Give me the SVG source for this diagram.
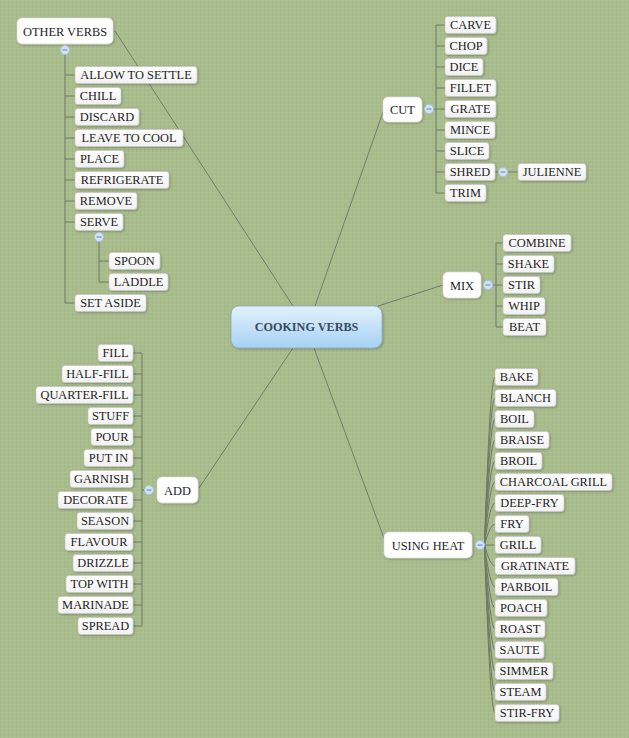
<svg xmlns="http://www.w3.org/2000/svg" width="629" height="738" viewBox="0 0 629 738">
<defs>
<pattern id="tex" width="4" height="4" patternUnits="userSpaceOnUse">
<rect width="4" height="4" fill="#a9bc8c"/>
<rect width="4" height="1" fill="#b4c59a" opacity="0.5"/>
<rect width="1" height="4" fill="#9eb284" opacity="0.4"/>
</pattern>
<linearGradient id="centerGrad" x1="0" y1="0" x2="0" y2="1">
<stop offset="0" stop-color="#e2f1fc"/>
<stop offset="1" stop-color="#a6d2f4"/>
</linearGradient>
<linearGradient id="leafGrad" x1="0" y1="0" x2="0" y2="1">
<stop offset="0" stop-color="#ffffff"/>
<stop offset="1" stop-color="#f1f1f1"/>
</linearGradient>
<filter id="sh" x="-10%" y="-20%" width="125%" height="150%">
<feDropShadow dx="1" dy="1" stdDeviation="0.8" flood-color="#000" flood-opacity="0.25"/>
</filter>
</defs>
<style>
.leaf{fill:url(#leafGrad);stroke:#c4c4c4;stroke-width:0.7;filter:url(#sh)}
.main{fill:#ffffff;stroke:#d8d8d8;stroke-width:0.7;filter:url(#sh)}
.center{fill:url(#centerGrad);stroke:#8aa6bd;stroke-width:0.8;filter:url(#sh)}
.t{font-family:"Liberation Serif","Times New Roman",serif;font-size:12.4px;fill:#1e1e1e;text-anchor:middle}
.ct{font-family:"Liberation Serif","Times New Roman",serif;font-size:12.2px;font-weight:bold;fill:#3a4b5e;text-anchor:middle}
.ln{stroke:#6f7a68;stroke-width:1;fill:none}
.mln{stroke:#737c6c;stroke-width:1;fill:none}
.btn{fill:#d3e3f6;stroke:#a7c1e2;stroke-width:0.8}
.minus{stroke:#5f86b8;stroke-width:1}
</style>
<rect id="background" width="629" height="738" fill="url(#tex)"/>

<g id="connectors">
<line class="mln" x1="115" y1="31" x2="293" y2="306"/>
<line class="mln" x1="383" y1="112" x2="315" y2="306"/>
<line class="mln" x1="378" y1="306" x2="443" y2="285"/>
<line class="mln" x1="199" y1="488" x2="293" y2="348"/>
<line class="mln" x1="314" y1="348" x2="385" y2="541"/>
<path class="ln" d="M65,54.5 V303 M65,75 H75 M65,96 H75 M65,117 H75 M65,138 H75 M65,159 H75 M65,180 H75 M65,201 H75 M65,222 H75 M65,303 H75"/>
<path class="ln" d="M99,241.5 V282 M99,261 H109 M99,282 H109"/>
<path class="ln" d="M433.5,109 H436 M436,25 V193 M436,25 H445 M436,46 H445 M436,67 H445 M436,88 H445 M436,109 H445 M436,130 H445 M436,151 H445 M436,172 H445 M436,193 H445"/>
<path class="ln" d="M495,172 H498.5 M507.5,172 H518"/>
<path class="ln" d="M492.5,285 H496 M496,243 V327 M496,243 H503 M496,264 H503 M496,285 H503 M496,306 H503 M496,327 H503"/>
<path class="ln" d="M144.5,490 H142 M142,353 V626 M133,353 H142 M133,374 H142 M133,395 H142 M133,416 H142 M133,437 H142 M133,458 H142 M133,479 H142 M133,500 H142 M133,521 H142 M133,542 H142 M133,563 H142 M133,584 H142 M133,605 H142 M133,626 H142"/>
<path class="ln" d="M484.5,545 Q490,377 495,377 M484.5,545 Q490,398 495,398 M484.5,545 Q490,419 495,419 M484.5,545 Q490,440 495,440 M484.5,545 Q490,461 495,461 M484.5,545 Q490,482 495,482 M484.5,545 Q490,503 495,503 M484.5,545 Q490,524 495,524 M484.5,545 H495 M484.5,545 Q490,566 495,566 M484.5,545 Q490,587 495,587 M484.5,545 Q490,608 495,608 M484.5,545 Q490,629 495,629 M484.5,545 Q490,650 495,650 M484.5,545 Q490,671 495,671 M484.5,545 Q490,692 495,692 M484.5,545 Q490,713 495,713"/>
</g>

<g id="cooking-verbs"><rect class="center" x="231" y="306" width="151" height="42" rx="8"/><text class="ct" x="306.5" y="331">COOKING VERBS</text></g>

<g id="other-verbs"><rect class="main" x="17" y="18" width="96" height="26" rx="5"/><text class="t" x="65" y="35.5">OTHER VERBS</text>
<circle class="btn" cx="65" cy="50" r="4.5"/><line class="minus" x1="62.5" y1="50" x2="67.5" y2="50"/></g>
<g id="allow-to-settle"><rect class="leaf" x="75" y="66.5" width="122" height="17" rx="3"/><text class="t" x="136" y="79.4">ALLOW TO SETTLE</text></g>
<g id="chill"><rect class="leaf" x="75" y="87.5" width="46" height="17" rx="3"/><text class="t" x="98" y="100.4">CHILL</text></g>
<g id="discard"><rect class="leaf" x="75" y="108.5" width="64" height="17" rx="3"/><text class="t" x="107" y="121.4">DISCARD</text></g>
<g id="leave-to-cool"><rect class="leaf" x="75" y="129.5" width="108" height="17" rx="3"/><text class="t" x="129" y="142.4">LEAVE TO COOL</text></g>
<g id="place"><rect class="leaf" x="75" y="150.5" width="49" height="17" rx="3"/><text class="t" x="99.5" y="163.4">PLACE</text></g>
<g id="refrigerate"><rect class="leaf" x="75" y="171.5" width="94" height="17" rx="3"/><text class="t" x="122" y="184.4">REFRIGERATE</text></g>
<g id="remove"><rect class="leaf" x="75" y="192.5" width="62" height="17" rx="3"/><text class="t" x="106" y="205.4">REMOVE</text></g>
<g id="serve"><rect class="leaf" x="75" y="213.5" width="48" height="17" rx="3"/><text class="t" x="99" y="226.4">SERVE</text>
<circle class="btn" cx="99" cy="237" r="4.5"/><line class="minus" x1="96.5" y1="237" x2="101.5" y2="237"/></g>
<g id="spoon"><rect class="leaf" x="109" y="252.5" width="51" height="17" rx="3"/><text class="t" x="134.5" y="265.4">SPOON</text></g>
<g id="laddle"><rect class="leaf" x="109" y="273.5" width="59" height="17" rx="3"/><text class="t" x="138.5" y="286.4">LADDLE</text></g>
<g id="set-aside"><rect class="leaf" x="75" y="294.5" width="71" height="17" rx="3"/><text class="t" x="110.5" y="307.4">SET ASIDE</text></g>

<g id="cut"><rect class="main" x="383" y="97" width="39" height="25" rx="5"/><text class="t" x="402.5" y="113.8">CUT</text>
<circle class="btn" cx="429" cy="109" r="4.5"/><line class="minus" x1="426.5" y1="109" x2="431.5" y2="109"/></g>
<g id="carve"><rect class="leaf" x="445" y="16.5" width="51" height="17" rx="3"/><text class="t" x="470.5" y="29.4">CARVE</text></g>
<g id="chop"><rect class="leaf" x="445" y="37.5" width="42" height="17" rx="3"/><text class="t" x="466" y="50.4">CHOP</text></g>
<g id="dice"><rect class="leaf" x="445" y="58.5" width="38" height="17" rx="3"/><text class="t" x="464" y="71.4">DICE</text></g>
<g id="fillet"><rect class="leaf" x="445" y="79.5" width="51" height="17" rx="3"/><text class="t" x="470.5" y="92.4">FILLET</text></g>
<g id="grate"><rect class="leaf" x="445" y="100.5" width="51" height="17" rx="3"/><text class="t" x="470.5" y="113.4">GRATE</text></g>
<g id="mince"><rect class="leaf" x="445" y="121.5" width="50" height="17" rx="3"/><text class="t" x="470" y="134.4">MINCE</text></g>
<g id="slice"><rect class="leaf" x="445" y="142.5" width="44" height="17" rx="3"/><text class="t" x="467" y="155.4">SLICE</text></g>
<g id="shred"><rect class="leaf" x="445" y="163.5" width="50" height="17" rx="3"/><text class="t" x="470" y="176.4">SHRED</text>
<circle class="btn" cx="503" cy="172" r="4.5"/><line class="minus" x1="500.5" y1="172" x2="505.5" y2="172"/></g>
<g id="julienne"><rect class="leaf" x="518" y="163.5" width="68" height="17" rx="3"/><text class="t" x="552" y="176.4">JULIENNE</text></g>
<g id="trim"><rect class="leaf" x="445" y="184.5" width="41" height="17" rx="3"/><text class="t" x="465.5" y="197.4">TRIM</text></g>

<g id="mix"><rect class="main" x="443" y="272" width="38" height="26" rx="5"/><text class="t" x="462" y="289.5">MIX</text>
<circle class="btn" cx="488" cy="285" r="4.5"/><line class="minus" x1="485.5" y1="285" x2="490.5" y2="285"/></g>
<g id="combine"><rect class="leaf" x="503" y="234.5" width="68" height="17" rx="3"/><text class="t" x="537" y="247.4">COMBINE</text></g>
<g id="shake"><rect class="leaf" x="503" y="255.5" width="51" height="17" rx="3"/><text class="t" x="528.5" y="268.4">SHAKE</text></g>
<g id="stir"><rect class="leaf" x="503" y="276.5" width="37" height="17" rx="3"/><text class="t" x="521.5" y="289.4">STIR</text></g>
<g id="whip"><rect class="leaf" x="503" y="297.5" width="42" height="17" rx="3"/><text class="t" x="524" y="310.4">WHIP</text></g>
<g id="beat"><rect class="leaf" x="503" y="318.5" width="43" height="17" rx="3"/><text class="t" x="524.5" y="331.4">BEAT</text></g>

<g id="add"><rect class="main" x="157" y="477" width="41" height="26" rx="5"/><text class="t" x="177.5" y="494.5">ADD</text>
<circle class="btn" cx="149" cy="490" r="4.5"/><line class="minus" x1="146.5" y1="490" x2="151.5" y2="490"/></g>
<g id="fill"><rect class="leaf" x="98" y="344.5" width="35" height="17" rx="3"/><text class="t" x="115.5" y="357.4">FILL</text></g>
<g id="half-fill"><rect class="leaf" x="62" y="365.5" width="71" height="17" rx="3"/><text class="t" x="97.5" y="378.4">HALF-FILL</text></g>
<g id="quarter-fill"><rect class="leaf" x="36" y="386.5" width="97" height="17" rx="3"/><text class="t" x="84.5" y="399.4">QUARTER-FILL</text></g>
<g id="stuff"><rect class="leaf" x="88" y="407.5" width="45" height="17" rx="3"/><text class="t" x="110.5" y="420.4">STUFF</text></g>
<g id="pour"><rect class="leaf" x="91" y="428.5" width="42" height="17" rx="3"/><text class="t" x="112" y="441.4">POUR</text></g>
<g id="put-in"><rect class="leaf" x="84" y="449.5" width="49" height="17" rx="3"/><text class="t" x="108.5" y="462.4">PUT IN</text></g>
<g id="garnish"><rect class="leaf" x="70" y="470.5" width="63" height="17" rx="3"/><text class="t" x="101.5" y="483.4">GARNISH</text></g>
<g id="decorate"><rect class="leaf" x="58" y="491.5" width="75" height="17" rx="3"/><text class="t" x="95.5" y="504.4">DECORATE</text></g>
<g id="season"><rect class="leaf" x="77" y="512.5" width="56" height="17" rx="3"/><text class="t" x="105" y="525.4">SEASON</text></g>
<g id="flavour"><rect class="leaf" x="65" y="533.5" width="68" height="17" rx="3"/><text class="t" x="99" y="546.4">FLAVOUR</text></g>
<g id="drizzle"><rect class="leaf" x="73" y="554.5" width="60" height="17" rx="3"/><text class="t" x="103" y="567.4">DRIZZLE</text></g>
<g id="top-with"><rect class="leaf" x="66" y="575.5" width="67" height="17" rx="3"/><text class="t" x="99.5" y="588.4">TOP WITH</text></g>
<g id="marinade"><rect class="leaf" x="58" y="596.5" width="75" height="17" rx="3"/><text class="t" x="95.5" y="609.4">MARINADE</text></g>
<g id="spread"><rect class="leaf" x="78" y="617.5" width="55" height="17" rx="3"/><text class="t" x="105.5" y="630.4">SPREAD</text></g>

<g id="using-heat"><rect class="main" x="384" y="532" width="88" height="26" rx="5"/><text class="t" x="428" y="549.5">USING HEAT</text>
<circle class="btn" cx="480" cy="545" r="4.5"/><line class="minus" x1="477.5" y1="545" x2="482.5" y2="545"/></g>
<g id="bake"><rect class="leaf" x="495" y="368.5" width="43" height="17" rx="3"/><text class="t" x="516.5" y="381.4">BAKE</text></g>
<g id="blanch"><rect class="leaf" x="495" y="389.5" width="61" height="17" rx="3"/><text class="t" x="525.5" y="402.4">BLANCH</text></g>
<g id="boil"><rect class="leaf" x="495" y="410.5" width="39" height="17" rx="3"/><text class="t" x="514.5" y="423.4">BOIL</text></g>
<g id="braise"><rect class="leaf" x="495" y="431.5" width="54" height="17" rx="3"/><text class="t" x="522" y="444.4">BRAISE</text></g>
<g id="broil"><rect class="leaf" x="495" y="452.5" width="47" height="17" rx="3"/><text class="t" x="518.5" y="465.4">BROIL</text></g>
<g id="charcoal-grill"><rect class="leaf" x="495" y="473.5" width="117" height="17" rx="3"/><text class="t" x="553.5" y="486.4">CHARCOAL GRILL</text></g>
<g id="deep-fry"><rect class="leaf" x="495" y="494.5" width="69" height="17" rx="3"/><text class="t" x="529.5" y="507.4">DEEP-FRY</text></g>
<g id="fry"><rect class="leaf" x="495" y="515.5" width="34" height="17" rx="3"/><text class="t" x="512" y="528.4">FRY</text></g>
<g id="grill"><rect class="leaf" x="495" y="536.5" width="46" height="17" rx="3"/><text class="t" x="518" y="549.4">GRILL</text></g>
<g id="gratinate"><rect class="leaf" x="495" y="557.5" width="80" height="17" rx="3"/><text class="t" x="535" y="570.4">GRATINATE</text></g>
<g id="parboil"><rect class="leaf" x="495" y="578.5" width="63" height="17" rx="3"/><text class="t" x="526.5" y="591.4">PARBOIL</text></g>
<g id="poach"><rect class="leaf" x="495" y="599.5" width="52" height="17" rx="3"/><text class="t" x="521" y="612.4">POACH</text></g>
<g id="roast"><rect class="leaf" x="495" y="620.5" width="50" height="17" rx="3"/><text class="t" x="520" y="633.4">ROAST</text></g>
<g id="saute"><rect class="leaf" x="495" y="641.5" width="49" height="17" rx="3"/><text class="t" x="519.5" y="654.4">SAUTE</text></g>
<g id="simmer"><rect class="leaf" x="495" y="662.5" width="58" height="17" rx="3"/><text class="t" x="524" y="675.4">SIMMER</text></g>
<g id="steam"><rect class="leaf" x="495" y="683.5" width="51" height="17" rx="3"/><text class="t" x="520.5" y="696.4">STEAM</text></g>
<g id="stir-fry"><rect class="leaf" x="495" y="704.5" width="64" height="17" rx="3"/><text class="t" x="527" y="717.4">STIR-FRY</text></g>
</svg>
